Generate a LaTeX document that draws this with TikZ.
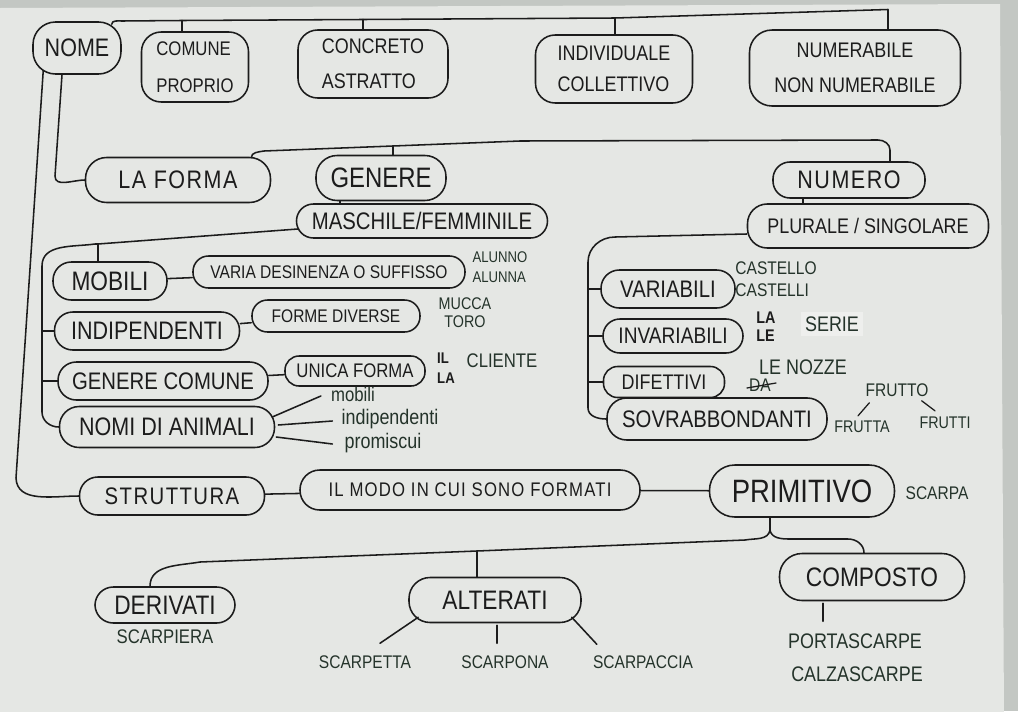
\documentclass[tikz,border=0pt]{standalone}
\usepackage{fontspec}
\setmainfont{Liberation Sans}[FakeStretch=0.85]
\usetikzlibrary{calc}
\definecolor{ink}{HTML}{1C1C1C}
\definecolor{exc}{HTML}{24332A}
\definecolor{paper}{HTML}{E5E7E4}
\definecolor{edgec}{HTML}{C3C7C3}
\begin{document}
\begin{tikzpicture}[x=0.025cm,y=-0.025cm,
  ln/.style={draw=ink,line width=1.1pt,line cap=round,line join=round},
  box/.style n args={3}{draw=ink,line width=1.1pt,rounded corners=#3,minimum width=#1*0.025cm,minimum height=#2*0.025cm,inner sep=0pt,align=center,text=ink},
  f/.style={font=\fontsize{#1}{#1}\selectfont},
  fs/.style={font=\fontsize{#1}{#1}\selectfont\addfontfeatures{LetterSpace=6}},
  ex/.style={text=exc,inner sep=0pt,align=left},
]
\fill[edgec] (0,0) rectangle (1018,711);
\fill[paper] (0,8) -- (1000,4) -- (1004,720) -- (0,720) -- cycle;

% ---------- top row ----------
\node[box={88}{52}{16pt},f=18] (nome) at (77,48) {NOME};
\node[box={107}{70}{14pt},font=\fontsize{14}{26}\selectfont,align=left] (comune) at (195,67) {COMUNE\\PROPRIO};
\node[box={150}{68}{14pt},font=\fontsize{15}{25}\selectfont,align=left] (concreto) at (373,64) {CONCRETO\\ASTRATTO};
\node[box={157}{68}{14pt},font=\fontsize{15}{22}\selectfont,align=left] (individuale) at (614,69) {INDIVIDUALE\\COLLETTIVO};
\node[box={211}{76}{16pt},font=\fontsize{15}{25}\selectfont] (numerabile) at (855,68) {NUMERABILE\\NON NUMERABILE};

\coordinate (k1) at (182,20.5);
\coordinate (k2) at (363,19.5);
\coordinate (k3) at (615,18);
\coordinate (T) at (888,9.5);
\draw[ln] ($(nome.north east)+(-10,3)$) to[out=90,in=180] (122,21) -- (k1) -- (k2) -- (k3) -- (T) -- (T |- numerabile.north);
\draw[ln] (k1) -- (k1 |- comune.north);
\draw[ln] (k2) -- (k2 |- concreto.north);
\draw[ln] (k3) -- (k3 |- individuale.north);

% ---------- second level ----------
\node[box={185}{45}{15pt},fs=18] (forma) at (178,180) {LA FORMA};
\node[box={130}{45}{15pt},f=20] (genere) at (381,178) {GENERE};
\node[box={152}{36}{12pt},fs=18] (numero) at (849,180) {NUMERO};

\coordinate (gt) at (393,146);
\coordinate (N) at (890,140);
\draw[ln] ($(forma.north east)+(-20,1)$) to[out=90,in=190] (264,151) -- (gt) -- (520,141) -- (878,140) to[out=0,in=90] ($(N)+(0,10)$) -- (N |- numero.north);
\draw[ln] (gt) -- (gt |- genere.north);

\draw[ln] ($(nome.south)+(-15,0)$) -- (55,176) to[out=-90,in=180] (forma.west);

\node[box={251}{34}{12pt},f=17] (maschile) at (422,221) {MASCHILE/FEMMINILE};
\node[box={241}{44}{14pt},f=15] (plurale) at (868,226) {PLURALE / SINGOLARE};
\coordinate (G) at (340,0);
\coordinate (Q) at (803,0);
\draw[ln] (G |- genere.south) -- (G |- maschile.north);
\draw[ln] (Q |- numero.south) -- (Q |- plurale.north);

% ---------- genere branch ----------
\node[box={114}{38}{13pt},f=19] (mobili) at (110,281) {MOBILI};
\node[box={272}{32}{11pt},f=13] (varia) at (329,272) {VARIA DESINENZA O SUFFISSO};
\node[box={185}{38}{13pt},f=18] (indip) at (147,331) {INDIPENDENTI};
\node[box={168}{32}{11pt},f=13] (forme) at (336,316) {FORME DIVERSE};
\node[box={210}{38}{13pt},f=17] (genc) at (163,381) {GENERE COMUNE};
\node[box={140}{30}{10pt},f=14] (unica) at (355,371) {UNICA FORMA};
\node[box={215}{41}{14pt},f=18] (animali) at (167,427) {NOMI DI ANIMALI};

\coordinate (mt) at (98,244);
\coordinate (L) at (42,0);
\draw[ln] ($(maschile.west)+(2,8)$) -- (mt) -- (95,244) to[out=188,in=90] (42,266) -- (42,412) to[out=-90,in=180] (animali.west);
\draw[ln] (mt) -- (mt |- mobili.north);
\draw[ln] (L |- indip.west) -- (indip.west);
\draw[ln] (L |- genc.west) -- (genc.west);

\draw[ln] (mobili) -- (varia);
\draw[ln] (indip) -- (forme);
\draw[ln] (genc) -- (unica);

\node[ex,font=\fontsize{11}{14}\selectfont] (alunno) at (500,267) {ALUNNO\\ALUNNA};
\node[ex,font=\fontsize{12}{13}\selectfont,align=center] (mucca) at (465,313) {MUCCA\\TORO};
\node[ex,font=\bfseries\fontsize{11}{14}\selectfont,text=ink] (illa) at (446,368) {IL\\LA};
\node[ex,f=14] (cliente) at (502,361) {CLIENTE};

\node[ex,f=14] (smob) at (353,394) {mobili};
\node[ex,f=15] (sind) at (390,419) {indipendenti};
\node[ex,f=15] (sprom) at (383,443) {promiscui};
\draw[ln] ($(animali.east)+(-3,-10)$) -- ($(smob.west)+(-10,2)$);
\draw[ln] ($(animali.east)+(3,-2)$) -- ($(sind.west)+(-9,2)$);
\draw[ln] ($(animali.east)+(1,10)$) -- ($(sprom.west)+(-12,1)$);

% ---------- numero branch ----------
\node[box={134}{38}{13pt},f=17] (variabili) at (668,289) {VARIABILI};
\node[box={140}{34}{12pt},f=16] (invariabili) at (673,336) {INVARIABILI};
\node[box={121}{31}{10pt},f=15] (difettivi) at (664,382) {DIFETTIVI};
\node[box={220}{42}{14pt},f=17] (sovra) at (717,419) {SOVRABBONDANTI};

\coordinate (R) at (588,0);
\draw[ln] ($(plurale.west)+(0,8)$) -- (615,237) to[out=180,in=90] (588,262) -- (588,408) to[out=-90,in=180] (sovra.west);
\draw[ln] (R |- variabili.west) -- (variabili.west);
\draw[ln] (R |- invariabili.west) -- (invariabili.west);
\draw[ln] (R |- difettivi.west) -- (difettivi.west);

\node[ex,font=\fontsize{13}{15.5}\selectfont] (castello) at (776,279) {CASTELLO\\CASTELLI};
\node[ex,font=\bfseries\fontsize{12}{13}\selectfont,text=ink] (lale) at (766,327) {LA\\LE};
\node[ex,f=15,fill=white!35!paper,inner sep=3pt] (serie) at (832,324) {SERIE};
\node[ex,f=15] (nozze) at (803,367) {LE NOZZE};
\node[ex,f=13] (da) at (760,385) {DA};
\draw[ln,line width=0.9pt] ($(da.west)+(-2,3)$) -- ($(da.east)+(5,-2)$);

\node[ex,f=13] (frutto) at (897,390) {FRUTTO};
\node[ex,f=12] (frutta) at (862,427) {FRUTTA};
\node[ex,f=12] (frutti) at (945,423) {FRUTTI};
\draw[ln,line width=0.9pt] ($(frutto.south west)+(4,6)$) -- ($(frutta.north)+(-4,-5)$);
\draw[ln,line width=0.9pt] ($(frutto.south east)+(-7,4)$) -- ($(frutti.north)+(-10,-6)$);

% ---------- struttura ----------
\node[box={185}{38}{13pt},fs=17] (struttura) at (172,496) {STRUTTURA};
\node[box={340}{40}{14pt},fs=14] (modo) at (470,490) {IL MODO IN CUI SONO FORMATI};
\node[box={185}{52}{18pt},f=23] (primitivo) at (802,491) {PRIMITIVO};
\node[ex,f=13] (scarpa) at (937,493) {SCARPA};
\draw[ln] ($(nome.south west)+(11,-4)$) -- (16,478) to[out=-88,in=180] (struttura.west);
\draw[ln] (struttura) -- (modo);
\draw[ln] (modo) -- (primitivo);

\node[box={140}{36}{13pt},f=19] (derivati) at (165,605) {DERIVATI};
\node[box={172}{45}{15pt},f=19] (alterati) at (495,600) {ALTERATI};
\node[box={185}{47}{16pt},f=19] (composto) at (872,577) {COMPOSTO};

\coordinate (P) at (770,530);
\coordinate (D) at (150,0);
\coordinate (at) at (477,551);
\coordinate (C) at (864,0);
\draw[ln] (P |- primitivo.south) -- (P);
\draw[ln] (P) to[out=-100,in=10] (745,540) -- (at) -- (200,562) to[out=190,in=90] (D |- derivati.north);
\draw[ln] (at) -- (at |- alterati.north);
\draw[ln] (P) to[out=-80,in=180] (790,539) -- (848,539) to[out=0,in=90] (C |- composto.north);

\node[ex,f=14] (scarpiera) at (165,637) {SCARPIERA};
\node[ex,f=13] (scarpetta) at (365,662) {SCARPETTA};
\node[ex,f=13] (scarpona) at (505,662) {SCARPONA};
\node[ex,f=13] (scarpaccia) at (643,662) {SCARPACCIA};
\draw[ln] ($(alterati.south west)+(10,-6)$) -- ($(scarpetta.north)+(15,-12)$);
\draw[ln] ($(alterati.south)+(2,2)$) -- ($(scarpona.north)+(-8,-12)$);
\draw[ln] ($(alterati.south east)+(-10,-6)$) -- ($(scarpaccia.north west)+(4,-11)$);

\node[ex,f=15] (porta) at (855,641) {PORTASCARPE};
\node[ex,f=15] (calza) at (857,674) {CALZASCARPE};
\draw[ln] ($(composto.south)+(-49,2)$) -- ($(porta.north)+(-32,-12)$);

\pgfresetboundingbox
\useasboundingbox (0,0) rectangle (1018,711);
\end{tikzpicture}
\end{document}
